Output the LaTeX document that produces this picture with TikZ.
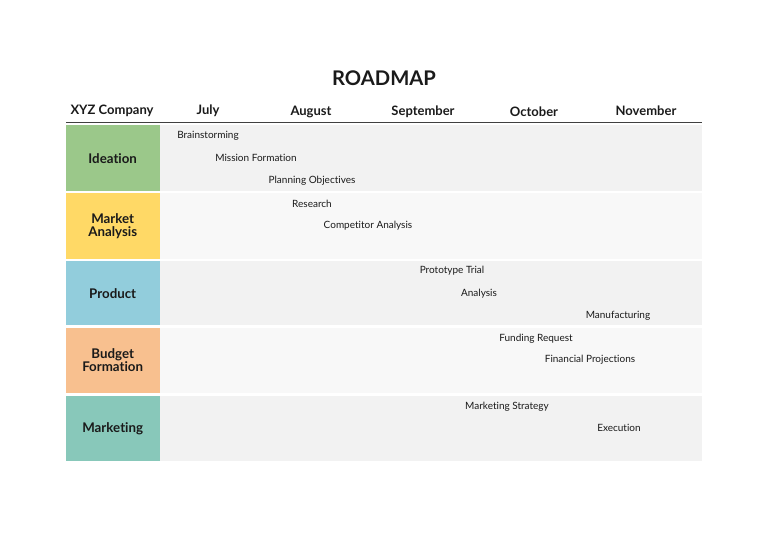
\documentclass[tikz,border=0pt]{standalone}
\usepackage{fontspec}
\setmainfont{Lato}[Ligatures=NoCommon]
\definecolor{cIdea}{HTML}{9BC88A}
\definecolor{cMarket}{HTML}{FFD966}
\definecolor{cProduct}{HTML}{92CDDC}
\definecolor{cBudget}{HTML}{F8C08F}
\definecolor{cMarketing}{HTML}{88C8BA}
\definecolor{rowA}{HTML}{F2F2F2}
\definecolor{rowB}{HTML}{F8F8F8}
\definecolor{txt}{HTML}{1A1A1A}
\tikzset{
  catbox/.style={inner sep=0pt, font=\bfseries\fontsize{13.3}{14.5}\selectfont, text=txt, align=center},
  head/.style={font=\bfseries\fontsize{13}{15}\selectfont, text=txt},
  task/.style={font=\fontsize{10}{12}\selectfont, text=txt, inner sep=0pt}
}
\begin{document}
\begin{tikzpicture}[x=1pt,y=-1pt]
\useasboundingbox (0,0) rectangle (768,544);
% title
\node[font=\bfseries\fontsize{20.2}{23}\selectfont, text=txt] (title) at (384,78) {ROADMAP};
% header
\node[head] (hco) at (112,111) {XYZ Company};
\node[head] (hjul) at (208,111) {July};
\node[head] (haug) at (311,112) {August};
\node[head] (hsep) at (423,112) {September};
\node[head] (hoct) at (534,112) {October};
\node[head] (hnov) at (646,111) {November};
\draw[line width=1.3pt, draw=black!75] (66,122.5) -- (702,122.5);
% rows
\fill[rowA] (160,125) rectangle (702,191);
\fill[rowB] (160,192.5) rectangle (702,258.5);
\fill[rowA] (160,261) rectangle (702,325);
\fill[rowB] (160,327.5) rectangle (702,392.5);
\fill[rowA] (160,395.5) rectangle (702,460.5);
% category boxes
\fill[cIdea] (66,125) rectangle (159.5,191);
\fill[cMarket] (66,192.5) rectangle (159.5,258.5);
\fill[cProduct] (66,261) rectangle (159.5,325);
\fill[cBudget] (66,327.5) rectangle (159.5,392.5);
\fill[cMarketing] (66,395.5) rectangle (159.5,460.5);
\node[catbox] (ideation) at (112.7,159) {Ideation};
\node[catbox] (market) at (112.7,226) {Market\\[-1.5pt]Analysis};
\node[catbox] (product) at (112.7,294) {Product};
\node[catbox] (budget) at (112.7,360.5) {Budget\\[-1.5pt]Formation};
\node[catbox] (marketing) at (112.7,429) {Marketing};
% tasks
\node[task] (t1) at (208,136) {Brainstorming};
\node[task] (t2) at (256,157.5) {Mission Formation};
\node[task] (t3) at (312,181) {Planning Objectives};
\node[task] (t4) at (312,203.5) {Research};
\node[task] (t5) at (368,225.5) {Competitor Analysis};
\node[task] (t6) at (452,270.5) {Prototype Trial};
\node[task] (t7) at (479,293.5) {Analysis};
\node[task] (t8) at (618,316) {Manufacturing};
\node[task] (t9) at (536,338.5) {Funding Request};
\node[task] (t10) at (590,359.5) {Financial Projections};
\node[task] (t11) at (507,406.5) {Marketing Strategy};
\node[task] (t12) at (619,427.5) {Execution};
\end{tikzpicture}
\end{document}
